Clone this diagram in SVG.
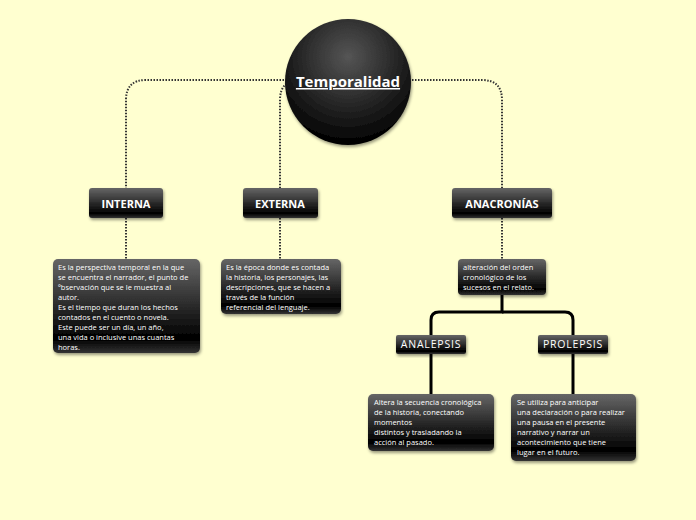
<svg xmlns="http://www.w3.org/2000/svg" width="696" height="520" viewBox="0 0 696 520">
<defs>
<linearGradient id="g" x1="0" y1="0" x2="0" y2="1"><stop offset="0" stop-color="#666"/><stop offset="0.85" stop-color="#000"/><stop offset="1" stop-color="#333"/></linearGradient>
<radialGradient id="c" cx="0.5" cy="0.3" r="0.7"><stop offset="0" stop-color="#555"/><stop offset="1" stop-color="#000"/></radialGradient>
<filter id="s" x="-10%" y="-10%" width="130%" height="130%"><feDropShadow dx="1" dy="2" stdDeviation="1.5" flood-opacity="0.4"/></filter>
</defs>
<style>
.b{fill:url(#g);filter:url(#s)}
.t{font-family:"Open Sans","DejaVu Sans",sans-serif;fill:#fff}
.h{font-size:11px;font-weight:bold}
.h2{font-size:10.5px;letter-spacing:0.8px}
.d{font-size:7.5px}
.dot{fill:none;stroke:#333;stroke-width:2;stroke-dasharray:1.5 1.5}
.sol{fill:none;stroke:#000;stroke-width:3}
</style>
<rect width="696" height="520" fill="#ffffd0"/>
<g id="connectors">
<path class="dot" d="M287 80 H146 Q126 80 126 100 V188"/>
<path class="dot" d="M287 80 H300 Q280 80 280 100 V188"/>
<path class="dot" d="M409 80 H482 Q502 80 502 100 V188"/>
<path class="dot" d="M126 218 V259"/>
<path class="dot" d="M280 218 V259"/>
<path class="dot" d="M502 218 V259"/>
<path class="sol" d="M502 295 V312 H439 Q431 312 431 320 V335"/>
<path class="sol" d="M502 312 H565 Q573 312 573 320 V335"/>
<path class="sol" d="M431 354 V394"/>
<path class="sol" d="M573 354 V394"/>
</g>
<g id="temporalidad"><circle cx="348" cy="82" r="63" fill="url(#c)" filter="url(#s)"/>
<text class="t" x="348" y="87" text-anchor="middle" font-size="15" font-weight="bold" text-decoration="underline">Temporalidad</text></g>
<g id="interna"><rect class="b" x="89" y="188" width="74" height="30" rx="3"/><text class="t h" x="126" y="208" text-anchor="middle">INTERNA</text></g>
<g id="externa"><rect class="b" x="243" y="188" width="75" height="30" rx="3"/><text class="t h" x="280" y="208" text-anchor="middle">EXTERNA</text></g>
<g id="anacronias"><rect class="b" x="452" y="188" width="100" height="30" rx="3"/><text class="t h" x="502" y="208" text-anchor="middle">ANACRONÍAS</text></g>
<g id="interna-desc"><rect class="b" x="53" y="259" width="147" height="94" rx="5"/>
<text class="t d" x="58" y="270"><tspan x="58">Es la perspectiva temporal en la que</tspan><tspan x="58" dy="10">se encuentra el narrador, el punto de</tspan><tspan x="58" dy="10">ºbservación que se le muestra al</tspan><tspan x="58" dy="10">autor.</tspan><tspan x="58" dy="10">Es el tiempo que duran los hechos</tspan><tspan x="58" dy="10">contados en el cuento o novela.</tspan><tspan x="58" dy="10">Este puede ser un día, un año,</tspan><tspan x="58" dy="10">una vida o inclusive unas cuantas</tspan><tspan x="58" dy="10">horas.</tspan></text></g>
<g id="externa-desc"><rect class="b" x="221" y="259" width="120" height="55" rx="5"/>
<text class="t d" x="226" y="270"><tspan x="226">Es la época donde es contada</tspan><tspan x="226" dy="10">la historia, los personajes, las</tspan><tspan x="226" dy="10">descripciones, que se hacen a</tspan><tspan x="226" dy="10">través de la función</tspan><tspan x="226" dy="10">referencial del lenguaje.</tspan></text></g>
<g id="anacronias-desc"><rect class="b" x="458" y="259" width="88" height="36" rx="4"/>
<text class="t d" x="463" y="270"><tspan x="463">alteración del orden</tspan><tspan x="463" dy="10">cronológico de los</tspan><tspan x="463" dy="10">sucesos en el relato.</tspan></text></g>
<g id="analepsis"><rect class="b" x="396" y="335" width="70" height="19" rx="2"/><text class="t h2" x="431" y="348" text-anchor="middle">ANALEPSIS</text></g>
<g id="prolepsis"><rect class="b" x="538" y="335" width="70" height="19" rx="2"/><text class="t h2" x="573" y="348" text-anchor="middle">PROLEPSIS</text></g>
<g id="analepsis-desc"><rect class="b" x="368" y="394" width="126" height="57" rx="5"/>
<text class="t d" x="374" y="405"><tspan x="374">Altera la secuencia cronológica</tspan><tspan x="374" dy="10">de la historia, conectando</tspan><tspan x="374" dy="10">momentos</tspan><tspan x="374" dy="10">distintos y trasladando la</tspan><tspan x="374" dy="10">acción al pasado.</tspan></text></g>
<g id="prolepsis-desc"><rect class="b" x="511" y="394" width="125" height="67" rx="5"/>
<text class="t d" x="517" y="405"><tspan x="517">Se utiliza para anticipar</tspan><tspan x="517" dy="10">una declaración o para realizar</tspan><tspan x="517" dy="10">una pausa en el presente</tspan><tspan x="517" dy="10">narrativo y narrar un</tspan><tspan x="517" dy="10">acontecimiento que tiene</tspan><tspan x="517" dy="10">lugar en el futuro.</tspan></text></g>
</svg>
